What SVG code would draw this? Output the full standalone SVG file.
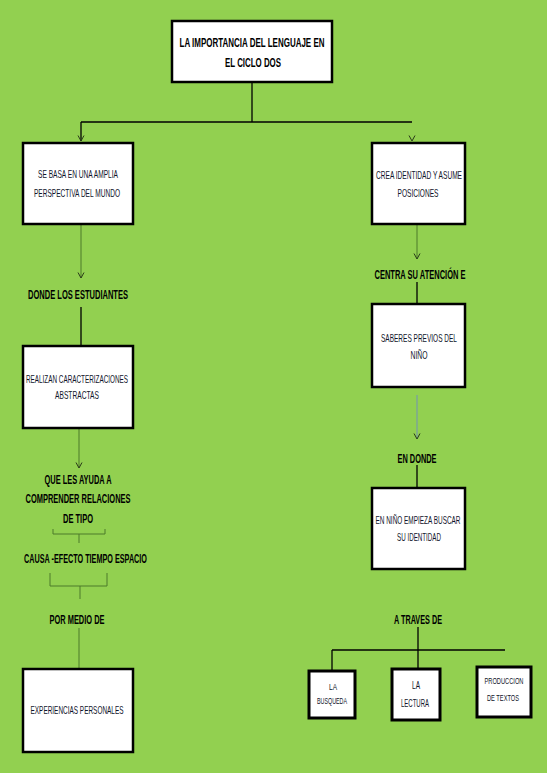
<svg xmlns="http://www.w3.org/2000/svg" width="547" height="773" viewBox="0 0 547 773">
<defs>
<marker id="v" markerWidth="8" markerHeight="8" refX="6" refY="4" orient="auto" markerUnits="userSpaceOnUse" viewBox="0 0 8 8">
<polyline points="0.5,1 6,4 0.5,7" fill="none" stroke="#2a3a1a" stroke-width="1"/>
</marker>
<style>
.box{fill:#fff;stroke:#000;stroke-width:2.5}
.sbox{fill:#fff;stroke:#000;stroke-width:3}
.t{font-family:"Liberation Sans Narrow","Liberation Sans",Arial,sans-serif;font-size:11px;fill:#10142a;text-anchor:middle}
.b{font-family:"Liberation Sans Narrow","Liberation Sans",Arial,sans-serif;font-size:12px;font-weight:bold;fill:#000;text-anchor:middle}
.h{font-family:"Liberation Sans Narrow","Liberation Sans",Arial,sans-serif;font-size:13px;font-weight:bold;fill:#000;text-anchor:middle}
.s{font-family:"Liberation Sans Narrow","Liberation Sans",Arial,sans-serif;font-size:9px;fill:#10142a;text-anchor:middle}
.k{stroke:#000;stroke-width:1.3;fill:none}
.g{stroke:#4d7a2a;stroke-width:1;fill:none}
.bl{stroke:#7392b4;stroke-width:1;fill:none}
</style>
</defs>
<rect x="0" y="0" width="547" height="773" fill="#92D050"/>

<g id="connectors">
<line class="k" x1="252" y1="82" x2="252" y2="122"/>
<line class="k" x1="81" y1="122" x2="412" y2="122"/>
<line class="k" x1="81" y1="122" x2="81" y2="141" marker-end="url(#v)"/>
<line x1="412" y1="132" x2="412" y2="141" stroke="none" marker-end="url(#v)"/>
<line class="g" x1="81" y1="224" x2="81" y2="278" marker-end="url(#v)"/>
<line class="k" x1="81" y1="307" x2="81" y2="345" stroke-width="1"/>
<line class="g" x1="79" y1="428" x2="79" y2="468" marker-end="url(#v)"/>
<polyline class="g" points="53,529 53,534 105,534 105,529"/>
<line class="g" x1="79" y1="534" x2="79" y2="543"/>
<polyline class="g" points="50,573 50,586 107,586 107,573"/>
<line class="g" x1="80" y1="586" x2="80" y2="599"/>
<line class="g" x1="79" y1="628" x2="79" y2="669"/>
<line class="g" x1="417" y1="224" x2="417" y2="259" marker-end="url(#v)"/>
<line class="k" x1="417" y1="282" x2="417" y2="304" stroke-width="1"/>
<line class="bl" x1="417" y1="395" x2="417" y2="439" marker-end="url(#v)"/>
<line class="k" x1="417" y1="465" x2="417" y2="488" stroke-width="1"/>
<line class="k" x1="418" y1="627" x2="418" y2="669"/>
<line class="k" x1="332" y1="650" x2="505" y2="650"/>
<line class="k" x1="332" y1="650" x2="332" y2="671"/>
</g>

<g id="title">
<rect class="box" x="172" y="21" width="160" height="61"/>
<text class="h" x="252" y="47" textLength="145" lengthAdjust="spacingAndGlyphs">LA IMPORTANCIA DEL LENGUAJE EN</text>
<text class="h" x="253" y="67" textLength="56" lengthAdjust="spacingAndGlyphs">EL CICLO DOS</text>
</g>

<g id="n-basa">
<rect class="box" x="23" y="143" width="110" height="81"/>
<text class="t" x="78" y="178" textLength="80" lengthAdjust="spacingAndGlyphs">SE BASA EN UNA AMPLIA</text>
<text class="t" x="77" y="197" textLength="86" lengthAdjust="spacingAndGlyphs">PERSPECTIVA DEL MUNDO</text>
</g>

<g id="l-donde">
<text class="b" x="78" y="299" textLength="100" lengthAdjust="spacingAndGlyphs">DONDE LOS ESTUDIANTES</text>
</g>

<g id="n-realizan">
<rect class="box" x="23" y="346" width="110" height="82"/>
<text class="t" x="77" y="383" textLength="102" lengthAdjust="spacingAndGlyphs">REALIZAN CARACTERIZACIONES</text>
<text class="t" x="77" y="399" textLength="44" lengthAdjust="spacingAndGlyphs">ABSTRACTAS</text>
</g>

<g id="l-que">
<text class="b" x="78" y="484" textLength="67" lengthAdjust="spacingAndGlyphs">QUE LES AYUDA A</text>
<text class="b" x="78" y="503" textLength="105" lengthAdjust="spacingAndGlyphs">COMPRENDER RELACIONES</text>
<text class="b" x="78" y="523" textLength="30" lengthAdjust="spacingAndGlyphs">DE TIPO</text>
</g>

<g id="l-causa">
<text class="b" x="85.5" y="563" textLength="123" lengthAdjust="spacingAndGlyphs">CAUSA -EFECTO TIEMPO ESPACIO</text>
</g>

<g id="l-por">
<text class="b" x="77" y="624" textLength="55" lengthAdjust="spacingAndGlyphs">POR MEDIO DE</text>
</g>

<g id="n-experiencias">
<rect class="box" x="23" y="669" width="110" height="83"/>
<text class="t" x="77" y="714" textLength="93" lengthAdjust="spacingAndGlyphs">EXPERIENCIAS PERSONALES</text>
</g>

<g id="n-crea">
<rect class="box" x="372" y="143" width="93" height="81"/>
<text class="t" x="419" y="179" textLength="86" lengthAdjust="spacingAndGlyphs">CREA IDENTIDAD Y ASUME</text>
<text class="t" x="418" y="197" textLength="41" lengthAdjust="spacingAndGlyphs">POSICIONES</text>
</g>

<g id="l-centra">
<text class="b" x="420" y="279" textLength="91" lengthAdjust="spacingAndGlyphs">CENTRA SU ATENCIÓN E</text>
</g>

<g id="n-saberes">
<rect class="box" x="372" y="304" width="93" height="83"/>
<text class="t" x="419" y="342" textLength="76" lengthAdjust="spacingAndGlyphs">SABERES PREVIOS DEL</text>
<text class="t" x="419" y="359" textLength="17" lengthAdjust="spacingAndGlyphs">NIÑO</text>
</g>

<g id="l-endonde">
<text class="b" x="417" y="463" textLength="39" lengthAdjust="spacingAndGlyphs">EN DONDE</text>
</g>

<g id="n-nino">
<rect class="box" x="372" y="488" width="93" height="81"/>
<text class="t" x="418" y="524" textLength="85" lengthAdjust="spacingAndGlyphs">EN NIÑO EMPIEZA BUSCAR</text>
<text class="t" x="419" y="541" textLength="44" lengthAdjust="spacingAndGlyphs">SU IDENTIDAD</text>
</g>

<g id="l-traves">
<text class="b" x="418" y="624" textLength="48" lengthAdjust="spacingAndGlyphs">A TRAVES DE</text>
</g>

<g id="n-busqueda">
<rect class="sbox" x="309" y="671" width="46" height="47"/>
<text class="s" x="333" y="689.5" textLength="8" lengthAdjust="spacingAndGlyphs">LA</text>
<text class="s" x="332" y="704" textLength="30" lengthAdjust="spacingAndGlyphs">BUSQUEDA</text>
</g>

<g id="n-lectura">
<rect class="sbox" x="392" y="669" width="48" height="51"/>
<text class="t" x="416" y="689" textLength="8" lengthAdjust="spacingAndGlyphs" style="font-size:10px">LA</text>
<text class="t" x="415" y="707" textLength="28" lengthAdjust="spacingAndGlyphs" style="font-size:10px">LECTURA</text>
</g>

<g id="n-produccion">
<rect class="sbox" x="477" y="667" width="54" height="50"/>
<text class="s" x="504" y="684" textLength="39" lengthAdjust="spacingAndGlyphs">PRODUCCION</text>
<text class="s" x="503" y="701" textLength="32" lengthAdjust="spacingAndGlyphs">DE TEXTOS</text>
</g>
</svg>
